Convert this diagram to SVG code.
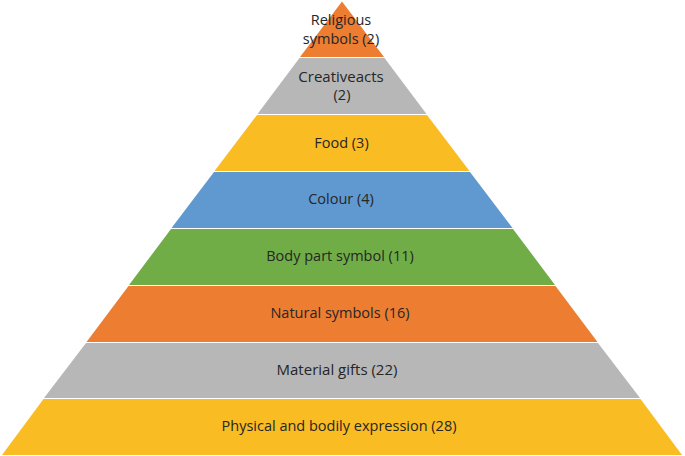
<svg xmlns="http://www.w3.org/2000/svg" width="685" height="456" viewBox="0 0 685 456">
<style>
.o{fill:#ed7d31}.g{fill:#b7b7b7}.y{fill:#fabc23}.b{fill:#5f99cf}.n{fill:#70ad47}
text{font-family:"Open Sans","Noto Sans",sans-serif;font-size:14.5px;fill:#262626;text-anchor:middle}
.w{font-size:15px}
</style>
<rect width="685" height="456" fill="#fff"/>
<g id="level-religious"><polygon class="o" points="342,1.5 384,57 300,57"/><text x="341" y="25">Religious</text><text x="341" y="44">symbols (2)</text></g>
<g id="level-creative"><polygon class="g" points="299.5,58 384.5,58 426.5,114 257.5,114"/><text class="w" x="341" y="81.5">Creativeacts</text><text x="342" y="100">(2)</text></g>
<g id="level-food"><polygon class="y" points="257,115 427,115 469.5,171 214.5,171"/><text x="341.5" y="147.5">Food (3)</text></g>
<g id="level-colour"><polygon class="b" points="214,172 470,172 512.5,228 171.5,228"/><text x="341" y="204">Colour (4)</text></g>
<g id="level-body"><polygon class="n" points="171,229 513,229 555,285 129,285"/><text x="340" y="261">Body part symbol (11)</text></g>
<g id="level-natural"><polygon class="o" points="128.5,286 555.5,286 597.5,342 86.5,342"/><text x="340" y="318">Natural symbols (16)</text></g>
<g id="level-material"><polygon class="g" points="86,343 598,343 640,398 44,398"/><text class="w" x="337" y="375">Material gifts (22)</text></g>
<g id="level-physical"><polygon class="y" points="43.5,399 640.5,399 682,455 2,455"/><text x="339" y="431">Physical and bodily expression (28)</text></g>
</svg>
